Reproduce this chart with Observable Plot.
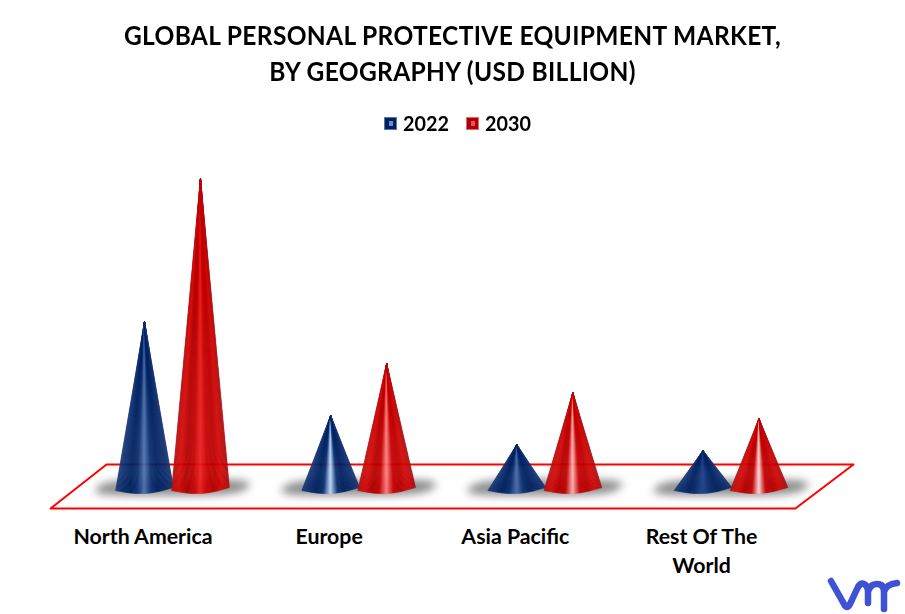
<!DOCTYPE html>
<html><head><meta charset="utf-8">
<script src="https://cdn.jsdelivr.net/npm/d3@7"></script>
<script src="https://cdn.jsdelivr.net/npm/@observablehq/plot@0.6"></script>
<style>
html,body{margin:0;padding:0;background:#fff;overflow:hidden}
body{width:905px;height:614px;position:relative;font-family:Lato,"Open Sans",sans-serif;color:#000}
#title{position:absolute;left:0;top:17px;width:905px;text-align:center;font-size:26.5px;font-weight:700;line-height:36px;letter-spacing:.35px;transform:scaleX(.926)}
#legend{position:absolute;left:384px;top:109px;height:28px;font-size:21.5px;font-weight:700}
#legend span.i{position:absolute;top:0;height:28px;display:flex;align-items:center}
#legend span.t{display:inline-block;transform:scaleX(.92);transform-origin:left center}
#legend i{display:inline-block;width:13px;height:13px;margin-right:6px;box-sizing:border-box;border-width:1px;border-style:solid}
#chart{position:absolute;left:0;top:140px}
#logo{position:absolute;left:820px;top:570px}
</style></head><body>
<div id="title">GLOBAL PERSONAL PROTECTIVE EQUIPMENT MARKET,<br>BY GEOGRAPHY (USD BILLION)</div>
<div id="legend"></div>
<div id="chart"></div>
<svg id="logo" width="85" height="44" viewBox="820 570 85 44"><path d="M831 581 L844 604 Q847 610 850 604 L857 589 Q860 582 864 584 Q868 586 868 592 L868 603 M868 592 Q870 584 877 584 Q884 584 884 592 L884 609 M884 592 Q886 584 897 583" fill="none" stroke="#3f51d4" stroke-width="6.5" stroke-linecap="round"/></svg>
<script>
const categories = ["North America", "Europe", "Asia Pacific", "Rest Of The World"];
const years = ["2022", "2030"];
const values2022 = [16.9, 7.5, 4.6, 4.0];
const values2030 = [31.2, 12.7, 9.8, 7.2];
const shine2022 = ["#4f70ad", "#c0dcff", "#4c6cab", "#1f4288"];
const shine2030 = ["#ea2020", "#ff8080", "#ffb4b4", "#ffdcdc"];

const colorStops = {
  "2022": s => ["#1c3a78", "#0a2c6c", "#00205e", "#0b2f70", s, "#0a2e70", "#00205e", "#08296a", "#17346f"],
  "2030": s => ["#b01010", "#d80808", "#b00000", "#c40000", s, "#c80000", "#b80000", "#d80606", "#a81010"]
};

// geometry helpers in scale units (1 x-unit = one category step, 1 y-unit = one value unit)
const stepPx = 186.17, pxY = 10;
const halfW = 29 / stepPx, off = 28 / stepPx, N = 64;
const base = t => (3 * t - 4.5 * Math.sin(Math.PI * t)) / pxY;

const slices = [], shadows = [];
categories.forEach((_, c) => {
  years.forEach((yr, k) => {
    const v = (k ? values2030 : values2022)[c];
    const s = (k ? shine2030 : shine2022)[c];
    const cx = c + (k ? off : -off);
    const col = d3.piecewise(d3.interpolateRgb, colorStops[yr](s));
    for (let i = 0; i < N; i++) {
      const t0 = i / N, t1 = (i + 1) / N;
      const color = col((i + .5) / N);
      const id = `${c}-${k}-${i}`;
      slices.push(
        {id, color, x: cx - halfW + 2 * halfW * t0, y: base(t0)},
        {id, color, x: cx, y: v},
        {id, color, x: cx - halfW + 2 * halfW * t1, y: base(t1)}
      );
    }
  });
  // one soft ground shadow under each pair of cones
  for (let a = 0; a < 60; a++) {
    const th = a / 60 * 2 * Math.PI;
    const sx = Math.sign(Math.cos(th)) * Math.pow(Math.abs(Math.cos(th)), .45);
    const sy = Math.sign(Math.sin(th)) * Math.pow(Math.abs(Math.sin(th)), .7);
    const ry = 8 * sy;
    shadows.push({id: c, x: c + (75 * sx + 1.2 * ry) / stepPx, y: (3 + ry) / pxY});
  }
});
const floor = [[-0.3545, 2.6], [3.658, 2.6], [3.346, -1.8], [-0.655, -1.8], [-0.3545, 2.6]].map(([x, y]) => ({x, y}));

const chart = Plot.plot({
  width: 905, height: 474,
  marginTop: 38, marginBottom: 124, marginLeft: 172, marginRight: 174.5,
  x: {domain: [0, 3], axis: null},
  y: {domain: [0, 31.2], axis: null},
  marks: [
    Plot.line(floor, {x: "x", y: "y", stroke: "#ff0000", strokeWidth: 2}),
    Plot.line(shadows, {x: "x", y: "y", z: "id", fill: "#8c8c8c", stroke: "none", imageFilter: "blur(4px)"}),
    Plot.line(slices, {x: "x", y: "y", z: "id", fill: "color", stroke: "color", strokeWidth: .4, curve: "linear"}),
    Plot.axisX({ticks: categories.map((_, i) => i - off), tickFormat: (d, i) => categories[i], tickSize: 0, tickPadding: 34, dx: -1.5, fontSize: 21.3, fontWeight: 700, lineWidth: 7.2, lineHeight: 1.32, fontFamily: "Lato", fill: "#000", label: null})
  ]
});
chart.style.background = "transparent";
document.getElementById("chart").append(chart);

const legend = document.getElementById("legend");
[["2022", 0, "#00205e", "#5a76ad", "#6f8cc4"], ["2030", 82, "#a80008", "#e86a6a", "#f05050"]].forEach(([y, left, a, b, c]) => {
  const s = document.createElement("span"); s.className = "i"; s.style.left = left + "px";
  const m = document.createElement("i");
  m.style.background = `linear-gradient(${c},${c}) center/4px 5px no-repeat ${a}`;
  m.style.borderColor = b;
  const t = document.createElement("span"); t.className = "t"; t.textContent = y;
  s.append(m, t);
  legend.append(s);
});
</script>
</body></html>
